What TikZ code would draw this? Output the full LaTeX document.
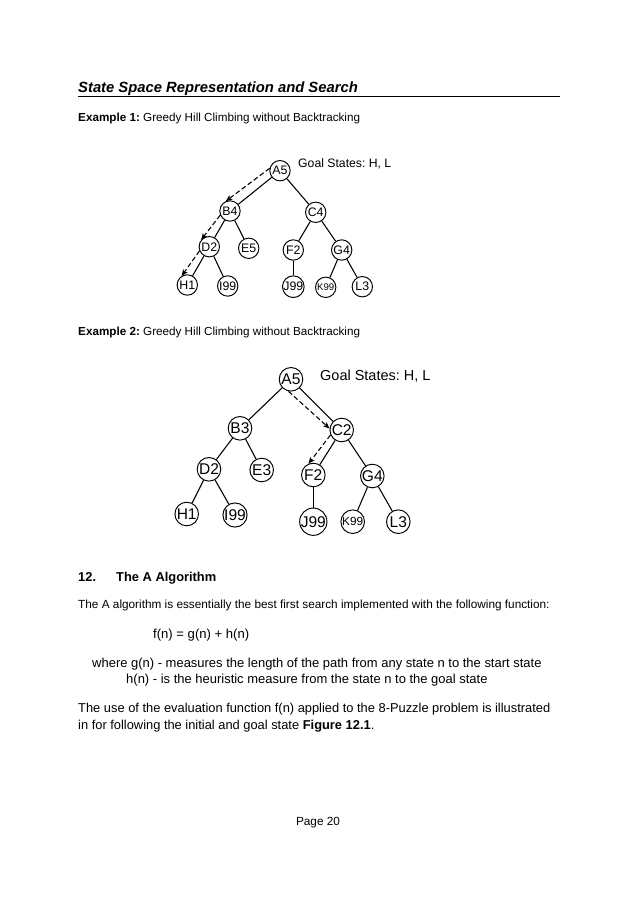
\documentclass[tikz,border=0pt]{standalone}
\usepackage{fontspec}
\setmainfont{Liberation Sans}
\usetikzlibrary{positioning,arrows.meta}
\frenchspacing

\tikzset{
  state/.style={circle, draw, line width=0.9pt, inner sep=0pt, minimum size=19pt,
    font=\fontsize{11.5}{13}\selectfont},
  bigstate/.style={state, minimum size=22pt, font=\fontsize{14.5}{16}\selectfont},
  edge/.style={line width=1pt},
  climb/.style={line width=1pt, dash pattern=on 4.5pt off 2.5pt,
    -{Stealth[length=6pt,width=5pt,inset=1.5pt]}},
  txt/.style={anchor=base west, inner sep=0pt, font=\fontsize{10.9}{13}\selectfont},
}

\begin{document}
\begin{tikzpicture}[x=0.9326pt, y=-0.9326pt]
  \useasboundingbox (0,0) rectangle (638,903);

  % page heading
  \node[txt, font=\fontsize{13.8}{16}\selectfont\bfseries\itshape] (title) at (78,93)
    {State Space Representation and Search};
  \draw[line width=0.8pt] (78,96.5) -- (560,96.5);
  \node[txt] (ex1) at (78,122) {\textbf{Example 1:} Greedy Hill Climbing without Backtracking};

  % First tree
  \node[state] (a) at (280,170.7) {A5};
  \node[state] (b) at (230,211) {B4};
  \node[state] (c) at (315.7,212.3) {C4};
  \node[state] (d) at (209.3,246.7) {D2};
  \node[state] (e) at (248.7,248.3) {E5};
  \node[state] (f) at (293.3,250) {F2};
  \node[state] (g) at (341.7,250) {G4};
  \node[state] (h) at (187.3,285) {H1};
  \node[state] (i) at (227.7,286) {I99};
  \node[state] (j) at (293.3,286.7) {J99};
  \node[state, font=\fontsize{9}{10}\selectfont] (k) at (325.7,287.3) {K99};
  \node[state] (l) at (362.3,286.7) {L3};
  \node[anchor=west, inner sep=0pt, font=\fontsize{11.4}{13}\selectfont] (goal1) at (298,164) {Goal States: H, L};
  \foreach \p/\q in {a/b, a/c, b/d, b/e, c/f, c/g, d/h, d/i, f/j, g/k, g/l}
    \draw[edge] (\p) -- (\q);
  \draw[climb] (a.167) -- (b.113);
  \draw[climb] (b.203) -- (d.140);
  \draw[climb] (d.203) -- (h.122);

  \node[txt] (ex2) at (78,335) {\textbf{Example 2:} Greedy Hill Climbing without Backtracking};

  % Second tree
  \node[bigstate] (a2) at (291,379.3) {A5};
  \node[bigstate] (b2) at (240,428.3) {B3};
  \node[bigstate] (c2) at (341.7,430) {C2};
  \node[bigstate] (d2) at (209,469.3) {D2};
  \node[bigstate] (e2) at (261.7,470) {E3};
  \node[bigstate] (f2) at (313.3,475) {F2};
  \node[bigstate] (g2) at (372.3,476) {G4};
  \node[bigstate] (h2) at (186.7,514) {H1};
  \node[bigstate] (i2) at (235,515) {I99};
  \node[bigstate] (j2) at (313.3,521.7) {J99};
  \node[bigstate, font=\fontsize{11}{12}\selectfont] (k2) at (352.7,521.7) {K99};
  \node[bigstate] (l2) at (398.3,521.7) {L3};
  \node[anchor=west, inner sep=0pt, font=\fontsize{13.5}{15}\selectfont] (goal2) at (320,376) {Goal States: H, L};
  \foreach \p/\q in {a2/b2, a2/c2, b2/d2, b2/e2, c2/f2, c2/g2, d2/h2, d2/i2, f2/j2, g2/k2, g2/l2}
    \draw[edge] (\p) -- (\q);
  \draw[climb] (a2.258) -- (c2.173);
  \draw[climb] (c2.204) -- (f2.113);

  % section 12
  \node[txt, font=\fontsize{12}{14}\selectfont\bfseries] (sec) at (78,581) {12.};
  \node[txt, font=\fontsize{12}{14}\selectfont\bfseries] (sectitle) at (116,581) {The A Algorithm};
  \node[txt, font=\fontsize{11}{13}\selectfont] (intro) at (78,608) {The A algorithm is essentially the best first search implemented with the following function:};
  \node[txt, font=\fontsize{12.2}{14}\selectfont] (eq) at (153,638) {f(n) = g(n) + h(n)};
  \node[txt, font=\fontsize{12.1}{14}\selectfont] (whereg) at (92,667) {where g(n) - measures the length of the path from any state n to the start state};
  \node[txt, font=\fontsize{12.1}{14}\selectfont] (whereh) at (126,683) {h(n) - is the heuristic measure from the state n to the goal state};
  \node[txt, font=\fontsize{12}{14}\selectfont] (use1) at (78,712) {The use of the evaluation function f(n) applied to the 8-Puzzle problem is illustrated};
  \node[txt, font=\fontsize{12}{14}\selectfont] (use2) at (78,729) {in for following the initial and goal state \textbf{Figure 12.1}.};
  \node[anchor=base, inner sep=0pt, font=\fontsize{11}{13}\selectfont] (page) at (318,825) {Page 20};
\end{tikzpicture}
\end{document}
